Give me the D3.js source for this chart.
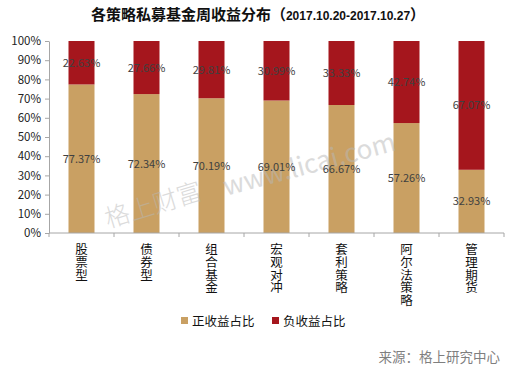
<!DOCTYPE html>
<html><head><meta charset="utf-8">
<script src="https://cdn.jsdelivr.net/npm/d3@7/dist/d3.min.js"></script>
<style>body{margin:0;background:#fff}svg{display:block}text{font-family:"Noto Sans CJK SC","Microsoft YaHei",sans-serif}</style>
</head><body><svg id="c" width="515" height="368"></svg>
<script>
const categories = ["股票型","债券型","组合基金","宏观对冲","套利策略","阿尔法策略","管理期货"];
const positive = [77.37,72.34,70.19,69.01,66.67,57.26,32.93];
const negative = [22.63,27.66,29.81,30.99,33.33,42.74,67.07];
const seriesNames = ["正收益占比","负收益占比"];
const colors = ["#C9A063","#A5161D"];
const yTicks = [0,10,20,30,40,50,60,70,80,90,100];

const svg = d3.select("#c");
const x = d3.scaleBand().domain(categories).range([49,504]).paddingInner(0.6).paddingOuter(0.3);
const y = d3.scaleLinear().domain([0,100]).range([233,41]);

// title
const t = svg.append("text").attr("x",258).attr("y",20).attr("text-anchor","middle")
  .attr("font-weight","bold").attr("fill","#111");
t.append("tspan").attr("font-size",15).text("各策略私募基金周收益分布（");
t.append("tspan").attr("font-size",12).attr("font-family","Liberation Sans, Arial, sans-serif").text("2017.10.20-2017.10.27");
t.append("tspan").attr("font-size",15).text("）");

// stacked data
const rows = categories.map((c,i)=>({cat:c, pos:positive[i], neg:negative[i]}));
const stack = d3.stack().keys(["pos","neg"])(rows);

stack.forEach((layer,li)=>{
  svg.append("g").selectAll("rect").data(layer).join("rect")
    .attr("x",d=>x(d.data.cat)).attr("width",x.bandwidth())
    .attr("y",d=>y(d[1])).attr("height",d=>y(d[0])-y(d[1]))
    .attr("fill",colors[li]);
});

// watermark (drawn over bars, translucent)
svg.append("text").attr("transform","translate(108,228) rotate(-17)").attr("font-size",25)
  .attr("font-weight",300).attr("fill","#b8b8b8").attr("opacity",0.5).text("格上财富");
svg.append("text").attr("transform","translate(226,196) rotate(-15)").attr("font-size",26)
  .attr("fill","#b8b8b8").attr("opacity",0.5).attr("font-family","Liberation Sans, Arial").text("www.licai.com");

// axes
const yAxis = svg.append("g").attr("transform","translate(49,0)")
  .call(d3.axisLeft(y).tickValues(yTicks).tickFormat(d=>d+"%").tickSize(4).tickSizeOuter(0));
yAxis.select(".domain").attr("stroke","#a6a6a6");
yAxis.selectAll(".tick line").attr("stroke","#a6a6a6");
yAxis.selectAll("text").attr("font-size",11.5).attr("fill","#222").attr("font-family","Liberation Sans, Arial, sans-serif").attr("dx",-1);

const xAxis = svg.append("g").attr("transform","translate(0,233)");
xAxis.append("line").attr("x1",49).attr("x2",504).attr("stroke","#a6a6a6");
const step = x.step();
xAxis.selectAll("line.tk").data(d3.range(categories.length+1)).join("line").attr("class","tk")
  .attr("x1",i=>49+i*step).attr("x2",i=>49+i*step).attr("y1",0).attr("y2",4).attr("stroke","#a6a6a6");

// vertical category labels
svg.append("g").selectAll("text").data(categories).join("text")
  .attr("x",c=>x(c)+x.bandwidth()/2).attr("y",243)
  .style("writing-mode","vertical-rl").style("text-orientation","upright")
  .attr("letter-spacing",0.3)
  .attr("font-size",12.5).attr("fill","#111")
  .text(c=>c);

// value labels
const fmt = d=>d.toFixed(2)+"%";
stack.forEach(layer=>{
  svg.append("g").selectAll("text").data(layer).join("text")
    .attr("x",d=>x(d.data.cat)+x.bandwidth()/2).attr("y",d=>y((d[0]+d[1])/2)+4)
    .attr("text-anchor","middle").attr("fill","#404040")
    .attr("font-family","DejaVu Sans, sans-serif").attr("font-size",11)
    .text(d=>fmt(d[1]-d[0]));
});

// legend
const lg = svg.append("g");
const legX = [181,272];
seriesNames.forEach((n,i)=>{
  lg.append("rect").attr("x",legX[i]).attr("y",317).attr("width",7).attr("height",7).attr("fill",colors[i]);
  lg.append("text").attr("x",legX[i]+11).attr("y",325.5).attr("font-size",12.5).attr("fill","#111").text(n);
});

// source
svg.append("text").attr("x",500).attr("y",362).attr("text-anchor","end").attr("font-size",13.5)
  .attr("fill","#7f7f7f").text("来源：格上研究中心");
</script></body></html>
